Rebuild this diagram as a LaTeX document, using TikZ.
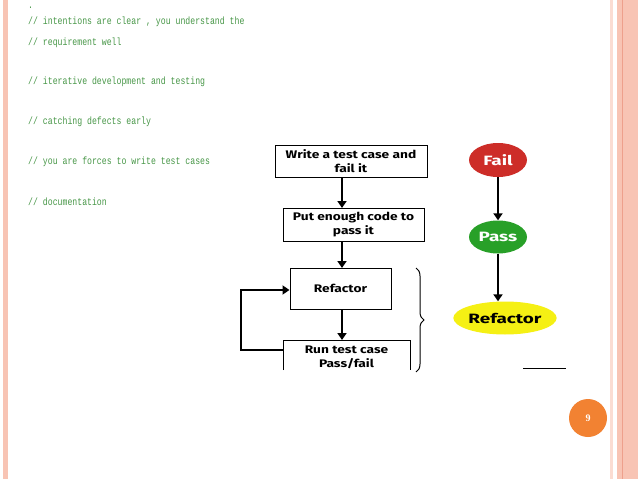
\documentclass[tikz,border=0pt]{standalone}
\usepackage{fontspec}
\setmainfont{Fira Sans}
\newfontfamily\flowfont{Fira Sans}[FakeStretch=1.25]
\newfontfamily\ovalfont{Fira Sans}[FakeStretch=1.4]
\newfontfamily\codefont{Liberation Mono}[FakeStretch=0.78]
\newfontfamily\numfont{Liberation Serif}
\usetikzlibrary{shapes.geometric,arrows.meta,decorations.pathreplacing}
\definecolor{codegreen}{RGB}{70,150,70}
\definecolor{pinkband}{RGB}{248,196,180}
\definecolor{pinkline}{RGB}{238,160,140}
\definecolor{failred}{RGB}{205,45,40}
\definecolor{passgreen}{RGB}{40,160,40}
\definecolor{refyellow}{RGB}{245,240,20}
\definecolor{numorange}{RGB}{242,130,50}
\begin{document}
\begin{tikzpicture}[x=1pt,y=-1pt,
  code/.style={anchor=west,text=codegreen,font=\codefont\fontsize{10.5}{12}\selectfont,inner sep=0},
  box/.style={draw,line width=1pt,align=center,font=\flowfont\bfseries\fontsize{11}{14}\selectfont},
  arr/.style={-{Triangle[length=7pt,width=9pt]},line width=2.2pt},
  oval/.style={ellipse,font=\ovalfont\bfseries\fontsize{13.5}{15}\selectfont,inner sep=0}]
\useasboundingbox (0,0) rectangle (638,479);
\fill[white] (0,0) rectangle (638,479);
% page decorations
\fill[pinkband] (3,0) rectangle (8,479);
\fill[pinkband!60] (610,0) rectangle (613,479);
\fill[pinkband] (617,0) rectangle (638,479);
\draw[pinkline,line width=0.8pt] (622,0) -- (622,479);
% code comments
\node[code] (c0) at (28,8) {.};
\node[code] (c1) at (28,22) {// intentions are clear , you understand the};
\node[code] (c2) at (28,43) {// requirement well};
\node[code] (c3) at (28,82) {// iterative development and testing};
\node[code] (c4) at (28,122) {// catching defects early};
\node[code] (c5) at (28,162) {// you are forces to write test cases};
\node[code] (c6) at (28,202) {// documentation};
% flowchart
\node[box,minimum width=152pt,minimum height=32pt,inner sep=1pt] (w) at (351,161) {Write a test case and\\fail it};
\node[box,minimum width=141pt,minimum height=33pt,inner sep=1pt] (p) at (353.5,224.5) {Put enough code to\\pass it};
\node[box,minimum width=101pt,minimum height=41pt] (r) at (340.5,288.5) {Refactor};
\draw[line width=1pt] (283,370) -- (283,340) -- (410,340) -- (410,370);
\node[align=center,font=\flowfont\bfseries\fontsize{11}{14}\selectfont] (t) at (346.5,357) {Run test case\\Pass/fail};
\coordinate (a1) at (342,177);
\coordinate (a2) at (342,208);
\coordinate (a3) at (342,241);
\coordinate (a4) at (342,268);
\coordinate (a5) at (342,309);
\coordinate (a6) at (342,340);
\coordinate (rl) at (283,350);
\coordinate (c1a) at (241,350);
\coordinate (c2a) at (241,290);
\draw[arr] (a1) -- (a2);
\draw[arr] (a3) -- (a4);
\draw[arr] (a5) -- (a6);
\draw[arr] (rl) -- (c1a) -- (c2a) -- (r.west|-c2a);
\draw[line width=1pt,decorate,decoration={brace,amplitude=8pt}] (416,268) -- (416,372);
% right column
\node[oval,fill=failred,text=white,minimum width=58pt,minimum height=34pt] (f) at (498,160) {Fail};
\node[oval,fill=passgreen,text=white,minimum width=58pt,minimum height=33pt] (ps) at (498,237) {Pass};
\node[oval,fill=refyellow,text=black,minimum width=96pt,minimum height=33pt] (rf) at (505,318) {Refactor};
\draw[arr] (f.south) -- (ps.north);
\draw[arr] (ps.south) -- (ps.south|-rf.north);
\draw[line width=1pt] (523,368) -- (566,368);
% page number
\node[circle,fill=numorange,text=white,minimum size=38pt,font=\numfont\bfseries\fontsize{10}{11}\selectfont] (n) at (588,418) {9};
\end{tikzpicture}
\end{document}
